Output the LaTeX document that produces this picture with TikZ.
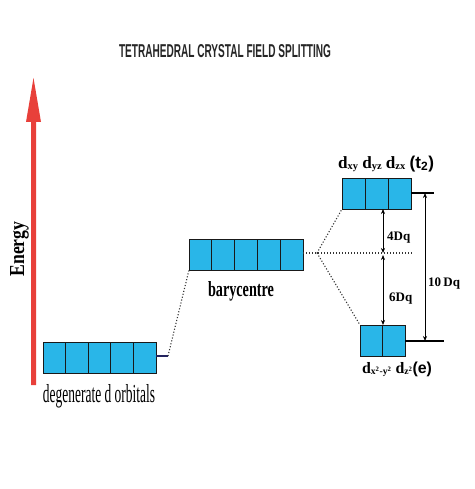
\documentclass[tikz,border=0pt]{standalone}
\usepackage{fontspec}
\setmainfont{Liberation Serif}
\setsansfont{Liberation Sans}
\usetikzlibrary{calc,arrows.meta}
\definecolor{orb}{RGB}{41,182,232}
\definecolor{energyred}{RGB}{232,64,58}
\definecolor{navy}{RGB}{35,35,95}
\newcommand\lowsub[1]{\raisebox{-1.2pt}{\fontsize{8.5}{9}\selectfont #1}}
\tikzset{
  orbbox/.style={draw=black!90, line width=1pt, fill=orb, minimum height=31pt, inner sep=0pt, outer sep=0pt, anchor=north west},
  divider/.style={line width=1pt, black!90},
  dotline/.style={dash pattern=on 1.1pt off 1.9pt, line width=1.1pt, black!80},
  levelline/.style={line width=1.1pt, black},
  gap/.style={{Stealth[length=5pt,width=4pt]}-{Stealth[length=5pt,width=4pt]}, line width=0.7pt},
  lbl/.style={inner sep=0pt, anchor=base},
  dq/.style={inner sep=0pt, anchor=base west, font=\fontsize{13}{15}\selectfont\bfseries},
}
\begin{document}
\begin{tikzpicture}[x=1pt,y=-1pt]
\useasboundingbox[fill=white] (0,0) rectangle (474,489);
% title
\node[lbl, text=black!85] (title) at (225,58) {\resizebox{212pt}{13pt}{\sffamily\bfseries TETRAHEDRAL CRYSTAL FIELD SPLITTING}};
% energy arrow
\fill[energyred] (31,385) -- (31,122) -- (26,122) -- (33.5,78) -- (41,122) -- (36,122) -- (36,385) -- cycle;
\node[lbl, rotate=90] (energy) at (24,249) {\resizebox{55pt}{14pt}{\bfseries Energy}};
% orbital boxes
\node[orbbox, minimum width=113pt] (deg) at (43,342) {};
\node[orbbox, minimum width=114pt] (bary) at (189,239) {};
\node[orbbox, minimum width=69pt] (t2) at (342,178) {};
\node[orbbox, minimum width=45pt] (eg) at (360,325) {};
\foreach \i in {1,2,3,4} {
  \draw[divider] ($(deg.south west)!{\i/5}!(deg.south east)$) -- ($(deg.north west)!{\i/5}!(deg.north east)$);
  \draw[divider] ($(bary.south west)!{\i/5}!(bary.south east)$) -- ($(bary.north west)!{\i/5}!(bary.north east)$);
}
\foreach \i in {1,2} {
  \draw[divider] ($(t2.south west)!{\i/3}!(t2.south east)$) -- ($(t2.north west)!{\i/3}!(t2.north east)$);
}
\draw[divider] (eg.south) -- (eg.north);
% labels
\node[lbl] (deglbl) at (99,402) {\resizebox{112pt}{18pt}{degenerate d orbitals}};
\node[lbl] (barylbl) at (241,296) {\resizebox{66pt}{15pt}{\bfseries barycentre}};
\node[lbl] (t2lbl) at (386,168) {\resizebox{96pt}{!}{\fontsize{14}{16}\selectfont\bfseries d\lowsub{xy} d\lowsub{yz} d\lowsub{zx} \textsf{(t\textsubscript{2})}}};
\node[lbl] (eglbl) at (397,373) {\resizebox{70pt}{!}{\fontsize{14}{16}\selectfont\bfseries d\lowsub{x\textsuperscript{2}-y\textsuperscript{2}} d\lowsub{z\textsuperscript{2}}\textsf{(e)}}};
% connectors
\coordinate (degend) at (168,356);
\draw[line width=1.1pt, navy] (deg.east |- degend) -- (degend);
\draw[dotline] (degend) -- (bary.south west);
\coordinate (junc) at (317,253);
\coordinate (midend) at (413,253);
\draw[dotline] (bary.east |- junc) -- (midend);
\draw[dotline] (junc) -- (t2.south west);
\draw[dotline] (junc) -- (eg.north west);
\coordinate (t2end) at (434,193);
\coordinate (egend) at (444,341);
\draw[levelline] (t2.east |- t2end) -- (t2end);
\draw[levelline] (eg.east |- egend) -- (egend);
% gaps
\coordinate (c4) at (383,0);
\coordinate (c10) at (425,0);
\draw[gap] (t2.south -| c4) -- (junc -| c4);
\draw[gap] ([yshift=-2pt]junc -| c4) -- (eg.north -| c4);
\draw[gap] (t2end -| c10) -- (egend -| c10);
\node[dq] (l4) at (387,240) {4Dq};
\node[dq] (l6) at (389,301) {6Dq};
\node[dq] (l10) at (428,286) {10\,Dq};
\end{tikzpicture}
\end{document}
